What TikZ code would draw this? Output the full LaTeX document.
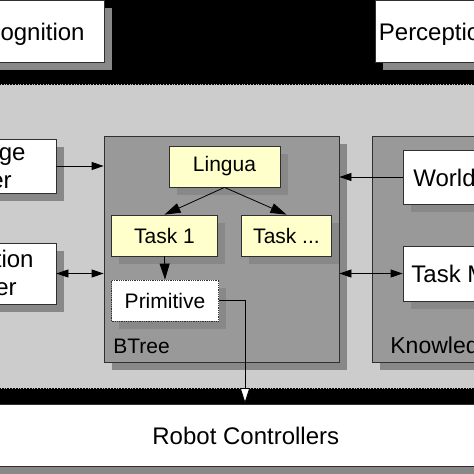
\documentclass[tikz,border=0pt]{standalone}
\usepackage{fontspec}
\setmainfont{Liberation Sans}
\usetikzlibrary{positioning, arrows.meta, shadows}
\definecolor{panelgray}{HTML}{CCCCCC}
\definecolor{innergray}{HTML}{999999}
\definecolor{shadowgray}{HTML}{888888}
\definecolor{paleyellow}{HTML}{FFFFCC}
\definecolor{edgegray}{HTML}{303030}
\tikzset{>={Triangle[length=12pt, width=8pt]},
  shadowed/.style={drop shadow={shadow xshift=7.5pt, shadow yshift=-7.5pt, fill=shadowgray, opacity=1}},
  whitebox/.style={draw=edgegray, fill=white, inner sep=0pt, shadowed},
  graybox/.style={draw=edgegray, fill=innergray, inner sep=0pt, shadowed},
  taskbox/.style={draw=edgegray, fill=paleyellow, inner sep=0pt, minimum height=41pt, shadowed, midfont},
  txt/.style={inner sep=0pt},
  bigfont/.style={font=\fontsize{24}{28}\selectfont},
  midfont/.style={font=\fontsize{21}{25}\selectfont},
  bigtip/.style={-{Triangle[length=16pt, width=10pt]}}}

\begin{document}
\begin{tikzpicture}[x=1pt, y=-1pt, line width=0.8pt]
    \path[use as bounding box, fill=black] (0,0) rectangle (474,474);
    \clip (0,0) rectangle (474,474);
    % top row
    \node[whitebox, minimum width=164pt, minimum height=61.5pt] (cogn) at (22,31.25) {};
    \node[txt, bigfont, anchor=base east] (cogntext) at (85,40) {ognition};
    \node[whitebox, minimum width=165pt, minimum height=61.5pt] (perc) at (457.5,31.25) {};
    \node[txt, bigfont, anchor=base west] (perctext) at (378.5,40) {Perceptio};
    % middle layer
    \node[fill=panelgray, inner sep=0pt, minimum width=494pt, minimum height=303pt] (core) at (237,236.5) {};
    \draw[white!75!black, dotted] (core.north west) -- (core.north east)
                                  (core.south west) -- (core.south east);
    \node[whitebox, minimum width=116pt, minimum height=54pt] (lang) at (-2,166) {};
    \node[txt, bigfont, anchor=base east] (langtop) at (26,160.5) {ge};
    \node[txt, bigfont, anchor=base east] (langbot) at (12,188) {er};
    \node[whitebox, minimum width=116pt, minimum height=61pt] (exec) at (-2,273.5) {};
    \node[txt, bigfont, anchor=base east] (exectop) at (34,267) {tion};
    \node[txt, bigfont, anchor=base east] (execbot) at (17,295) {er};
    % behaviour tree
    \node[graybox, minimum width=235pt, minimum height=226pt] (btree) at (221.5,249) {};
    \node[txt, midfont, anchor=base west] (btreetext) at (113,353) {BTree};
    \node[taskbox, minimum width=111pt] (lingua) at (224.5,166.5) {Lingua};
    \node[taskbox, minimum width=106pt] (task1) at (164.5,235.5) {Task 1};
    \node[taskbox, minimum width=90pt] (taskn) at (286.5,235.5) {Task ...};
    \node[whitebox, densely dotted, minimum width=107pt, minimum height=41pt, midfont] (prim) at (165,300.5) {Primitive};
    % knowledge
    \node[graybox, minimum width=188pt, minimum height=226pt] (know) at (466,249) {};
    \node[txt, font=\fontsize{23}{27}\selectfont, anchor=base west] (knowtext) at (390,353) {Knowled};
    \node[whitebox, minimum width=157pt, minimum height=54pt] (world) at (481.5,177) {};
    \node[txt, bigfont, anchor=base west] (worldtext) at (413,186) {World};
    \node[whitebox, minimum width=157pt, minimum height=55pt] (taskm) at (481.5,273.5) {};
    \node[txt, bigfont, anchor=base west] (taskmtext) at (411,282) {Task M};
    % bottom row
    \node[whitebox, minimum width=500pt, minimum height=61.5pt] (robot) at (237,435.25) {};
    \node[txt, bigfont, anchor=base west] (robottext) at (152,444) {Robot Controllers};
    % connectors
    \draw[->] (lang.east) -- (lang.east -| btree.west);
    \draw[<->] (exec.east) -- (exec.east -| btree.west);
    \draw[->] (world.west) -- (world.west -| btree.east);
    \draw[<->] (taskm.west) -- (taskm.west -| btree.east);
    \draw[bigtip] (lingua.south) -- (task1.north);
    \draw[bigtip] (lingua.south) -- (taskn.north);
    \draw[bigtip] (task1.south) -- (prim.north);
    \draw[-{Triangle[length=16pt, width=10pt, fill=white]}] (prim.east) -| ([xshift=8pt]robot.north);
\end{tikzpicture}
\end{document}
